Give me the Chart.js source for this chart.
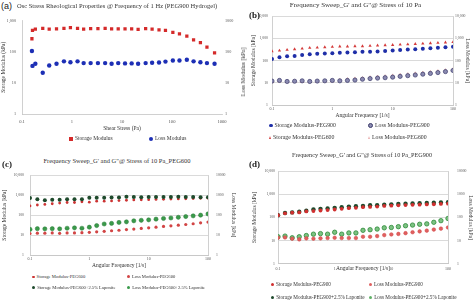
<!DOCTYPE html>
<html>
<head>
<meta charset="utf-8">
<script src="https://cdn.jsdelivr.net/npm/chart.js@4.4.1/dist/chart.umd.min.js"></script>
<style>
  html, body { margin: 0; padding: 0; background: #fff; }
  body { width: 474px; height: 303px; position: relative; overflow: hidden; font-family: "Liberation Serif", "Times New Roman", serif; color: #333; }
  canvas { position: absolute; }
  .txt { position: absolute; white-space: nowrap; line-height: 1; }
  .vt { position: absolute; white-space: nowrap; line-height: 1; transform: translate(-50%, -50%) rotate(-90deg); }
  .lg { position: absolute; white-space: nowrap; line-height: 1; display: flex; align-items: center; }
  .mk { display: inline-block; margin-right: 2px; }
</style>
</head>
<body>
<canvas id="chartA" width="237" height="124" style="left:0;top:12px"></canvas>
<canvas id="chartB" width="237" height="112" style="left:237px;top:10px"></canvas>
<canvas id="chartC" width="237" height="106" style="left:0;top:165px"></canvas>
<canvas id="chartD" width="237" height="115" style="left:237px;top:160px"></canvas>

<!-- titles -->
<div class="txt" style="left:1px;top:1px;font:9px 'Liberation Sans',sans-serif;color:#222">(a)</div>
<div class="txt" style="left:17px;top:2.5px;font-size:6.5px">Osc Stress Rheological Properties @ Frequency of 1 Hz (PEG900 Hydrogel)</div>
<div class="txt" style="left:237px;width:237px;text-align:center;top:1.5px;font-size:7px">Frequency Sweep_G' and G"@ Stress of 10 Pa</div>
<div class="txt" style="left:249px;top:11px;font-size:9px;font-weight:bold;color:#222">(b)</div>
<div class="txt" style="left:0;width:234px;text-align:center;top:157.5px;font-size:6.5px">Frequency Sweep_G' and G"@ Stress of 10 Pa_PEG600</div>
<div class="txt" style="left:2px;top:160px;font-size:9px;font-weight:bold;color:#222">(c)</div>
<div class="txt" style="left:237px;width:250px;text-align:center;top:151.8px;font-size:6.2px">Frequency Sweep_G' and G"@ Stress of 10 Pa_PEG900</div>
<div class="txt" style="left:249px;top:160px;font-size:9px;font-weight:bold;color:#222">(d)</div>
<div class="vt" style="left:243px;top:72px;font-size:6px">Loss Modulus [kPa]</div>

<!-- legends -->
<div class="lg" style="left:69px;top:136px;font-size:5.5px"><span class="mk" style="width:4px;height:4px;background:#d42a2a"></span>Storage Modulus</div>
<div class="lg" style="left:149px;top:136px;font-size:5.5px"><span class="mk" style="width:4px;height:4px;border-radius:50%;background:#1d2fb5"></span>Loss Modulus</div>

<div class="lg" style="left:269px;top:122.5px;font-size:5.8px"><span class="mk" style="width:3.5px;height:3.5px;border-radius:50%;background:#1f2fa8"></span>Storage Modulus-PEG900</div>
<div class="lg" style="left:368px;top:122.5px;font-size:5.8px"><span class="mk" style="width:3px;height:3px;border-radius:50%;background:#8a8ab0;border:0.6px solid #3a3a6a"></span>Loss Modulus-PEG900</div>
<div class="lg" style="left:269px;top:134.5px;font-size:5.8px"><span class="mk" style="width:0;height:0;border-left:1.8px solid transparent;border-right:1.8px solid transparent;border-bottom:3.2px solid #d43a3a"></span>Storage Modulus-PEG600</div>
<div class="lg" style="left:368px;top:134.5px;font-size:5.8px"><span class="mk" style="width:0;height:0;border-left:1.8px solid transparent;border-right:1.8px solid transparent;border-bottom:3.2px solid #e9b0b0"></span>Loss Modulus-PEG600</div>

<div class="lg" style="left:32px;top:274.5px;font-size:4.6px"><span class="mk" style="width:2.6px;height:2.6px;border-radius:50%;background:#cc3333"></span>Storage Modulus-PEG600</div>
<div class="lg" style="left:127px;top:274.5px;font-size:4.6px"><span class="mk" style="width:3px;height:3px;border-radius:50%;background:#d24545"></span>Loss Modulus-PEG600</div>
<div class="lg" style="left:32px;top:285.5px;font-size:4.6px"><span class="mk" style="width:3.2px;height:3.2px;border-radius:50%;background:#1e4a2c"></span>Storage Modulus-PEG600+2.5% Laponite</div>
<div class="lg" style="left:127px;top:285.5px;font-size:4.6px"><span class="mk" style="width:3.2px;height:3.2px;border-radius:50%;background:#3a9a4a"></span>Loss Modulus-PEG600+2.5% Laponite</div>

<div class="lg" style="left:271px;top:282px;font-size:5.2px"><span class="mk" style="width:3px;height:3px;border-radius:50%;background:#d03030"></span>Storage Modulus-PEG900</div>
<div class="lg" style="left:369px;top:282px;font-size:5.2px"><span class="mk" style="width:3px;height:3px;border-radius:50%;background:#e06060"></span>Loss Modulus-PEG900</div>
<div class="lg" style="left:271px;top:294.5px;font-size:5.2px"><span class="mk" style="width:3.2px;height:3.2px;border-radius:50%;background:#1e4a2c"></span>Storage Modulus-PEG900+2.5% Laponite</div>
<div class="lg" style="left:369px;top:294.5px;font-size:5.2px"><span class="mk" style="width:3.2px;height:3.2px;border-radius:50%;background:#5fb066"></span>Loss Modulus-PEG900+2.5% Laponite</div>

<script>
const SERIF = "'Liberation Serif', 'Times New Roman', serif";

// (a) stress sweep
const stressA = [0.158, 0.162, 0.185, 0.26, 0.35, 0.49, 0.69, 0.93, 1.29, 1.71, 2.36, 3.3, 4.6, 6.2, 8.4, 11.5, 15.6, 21, 29.7, 40, 55, 74, 104, 141, 198, 270, 370, 500, 710];
const storageA = [260, 480, 530, 560, 530, 540, 560, 590, 560, 530, 550, 550, 560, 540, 540, 540, 540, 520, 550, 530, 500, 480, 415, 375, 315, 240, 194, 140, 91];
const lossA = [105, 35, 41, 21, 36, 41, 49, 46, 49, 43, 43, 43, 43, 41, 43, 42, 42, 41, 43, 44, 45, 48, 52, 52, 55, 49, 46, 43, 41];

// (b)(c)(d) angular frequency [1/s]
const freqs = [0.1, 0.133, 0.178, 0.237, 0.316, 0.422, 0.562, 0.75, 1, 1.33, 1.78, 2.37, 3.16, 4.22, 5.62, 7.5, 10, 13.3, 17.8, 23.7, 31.6, 42.2, 56.2, 75, 100];

const storageB900 = [119, 141, 157, 163, 181, 193, 202, 208, 215, 224, 231, 238, 249, 249, 256, 270, 285, 300, 315, 330, 345, 360, 380, 400, 420];
const storageB600 = [265, 285, 306, 326, 351, 378, 390, 404, 420, 433, 433, 447, 447, 466, 481, 495, 510, 525, 545, 565, 585, 610, 635, 660, 680];
const lossB900 = [12, 12.8, 11.5, 11.8, 12.3, 11.5, 12, 12.3, 12.8, 12.3, 12.8, 13.3, 14.5, 15.5, 16.3, 17, 18, 19.5, 21, 22.5, 24.5, 26.5, 29, 32, 36];
const lossB600 = [11.2, 12, 11.2, 11.5, 11.5, 11.2, 11.5, 12, 12, 13, 14, 15, 15.8, 17, 18.2, 19, 20.5, 22, 23.5, 25.5, 27.5, 29.5, 32, 35.5, 39];

const storageC600 = [289, 323, 345, 373, 402, 430, 430, 464, 449, 501, 501, 518, 536, 559, 578, 590, 600, 615, 625, 640, 650, 665, 680, 695, 710];
const lossC600 = [12, 12.4, 12.4, 12.8, 12.2, 12.8, 12.8, 13.2, 13.8, 14.5, 15.5, 16.5, 17.5, 18.8, 20, 21.5, 23, 25, 27, 29, 31.5, 34, 37, 41, 45];
const storageC600Lap = [720, 624, 559, 597, 597, 624, 624, 624, 744, 744, 744, 777, 777, 830, 803, 800, 810, 810, 820, 820, 830, 820, 810, 800, 790];
const lossC600Lap = [19.3, 21, 20.5, 21, 20.5, 22, 23, 22, 24.8, 30, 36, 38.5, 43, 46, 52, 55, 58, 63, 68, 72, 78, 85, 92, 100, 115];

const storageD900 = [125, 151, 161, 166, 183, 190, 201, 209, 222, 237, 253, 261, 279, 287, 296, 316, 325, 335, 345, 352, 360, 368, 375, 385, 395];
const lossD900 = [13.3, 13.7, 12.1, 11.3, 12.5, 12.1, 12.5, 12.9, 13.3, 12.9, 12.9, 12.9, 14.7, 14.7, 15.7, 17.3, 18.5, 19.5, 21, 23, 25, 27, 30, 33, 37];
const storageD900Lap = [125, 157, 166, 178, 196, 222, 237, 244, 261, 279, 296, 307, 316, 338, 338, 358, 370, 385, 395, 405, 415, 425, 440, 450, 460];
const lossD900Lap = [14.7, 15.7, 13.3, 14.7, 16.6, 19.0, 20.1, 19.0, 23.0, 19.0, 21.5, 21.5, 27.9, 29.6, 31.6, 35.8, 37, 40, 44, 47, 51, 53, 62, 73, 91];

// tick values / labels
const xTicksA = [0.1, 1, 10, 100, 1000];
const xLabelsA = ['0.1', '1', '10', '100', '1000'];
const yTicksA = [1, 10, 100, 1000];
const yLabelsA = ['1', '10', '100', '1,000'];
const yLabelsA2 = ['1', '10', '100', '1000'];
const xTicksF = [0.1, 1, 10, 100];
const xLabelsF = ['0.1', '1', '10', '100'];
const yTicksF = [1, 10, 100, 1000, 10000];
const yLabelsF = ['1', '10', '100', '1,000', '10,000'];
const yLabelsF2 = ['1', '10', '100', '1000', '10000'];

function pts(xs, ys) {
  return ys.map((y, i) => ({ x: xs[i], y: y }));
}

function logAxis(o) {
  return {
    type: 'logarithmic',
    position: o.position,
    min: o.min,
    max: o.max,
    afterBuildTicks: s => { s.ticks = o.ticks.map(v => ({ value: v })); },
    afterFit: s => { if (s.isHorizontal()) s.height = o.size; else s.width = o.size; },
    ticks: {
      autoSkip: false, maxRotation: 0, padding: o.pad, color: '#555',
      font: { family: SERIF, size: o.font },
      callback: (v, i) => o.labels[i]
    },
    grid: { display: !!o.grid, drawTicks: false, color: '#d0d0d0', lineWidth: 0.8 },
    border: { display: o.border !== false, color: '#c4c4c4', width: 0.8 },
    title: o.title
      ? { display: true, text: o.title, color: '#333', font: { family: SERIF, size: o.tsize || 5.5 }, padding: { top: o.tpad, bottom: o.tpad } }
      : { display: false }
  };
}

function ds(label, xs, ys, axis, style) {
  return Object.assign({
    label: label,
    data: pts(xs, ys),
    yAxisID: axis,
    borderWidth: 0,
    pointHoverRadius: 0
  }, style);
}

function panel(id, padTop, sets, x, y, y2) {
  return new Chart(document.getElementById(id), {
    type: 'scatter',
    data: { datasets: sets },
    options: {
      responsive: false,
      animation: false,
      layout: { padding: { top: padTop, left: 0, right: 0, bottom: 0 } },
      plugins: { legend: { display: false }, tooltip: { enabled: false } },
      scales: { x: x, y: y, y2: y2 }
    }
  });
}

// (a)
panel('chartA', 8, [
  ds('Storage Modulus', stressA, storageA, 'y', { pointStyle: 'rect', pointRadius: 2.3, backgroundColor: '#d42a2a', borderColor: '#d42a2a' }),
  ds('Loss Modulus', stressA, lossA, 'y2', { pointStyle: 'circle', pointRadius: 2.2, backgroundColor: '#1d2fb5', borderColor: '#1d2fb5' })
],
  logAxis({ position: 'bottom', min: 0.1, max: 1000, ticks: xTicksA, labels: xLabelsA, size: 22, pad: 5, font: 4.6, title: 'Shear Stress (Pa)', tpad: 4.4 }),
  logAxis({ position: 'left', min: 1, max: 1000, ticks: yTicksA, labels: yLabelsA, size: 22, pad: 6, font: 4.2, title: 'Storage Modulus (kPa)', tpad: 0 }),
  logAxis({ position: 'right', min: 1, max: 1000, ticks: yTicksA, labels: yLabelsA2, size: 15, pad: 3, font: 4.2, border: false })
);

// (b)
panel('chartB', 6, [
  ds('Loss Modulus-PEG900', freqs, lossB900, 'y2', { pointStyle: 'circle', pointRadius: 2.1, backgroundColor: '#8a8ab0', borderColor: '#3a3a6a', borderWidth: 0.7 }),
  ds('Loss Modulus-PEG600', freqs, lossB600, 'y2', { pointStyle: 'triangle', pointRadius: 2, backgroundColor: '#efbcbc', borderColor: '#c98a8a', borderWidth: 0.5 }),
  ds('Storage Modulus-PEG900', freqs, storageB900, 'y', { pointStyle: 'circle', pointRadius: 2, backgroundColor: '#1f2fa8', borderColor: '#1f2fa8' }),
  ds('Storage Modulus-PEG600', freqs, storageB600, 'y', { pointStyle: 'triangle', pointRadius: 1.9, backgroundColor: '#d43a3a', borderColor: '#d43a3a' })
],
  logAxis({ position: 'bottom', min: 0.1, max: 100, ticks: xTicksF, labels: xLabelsF, size: 17, pad: 2, font: 4, title: 'Angular Frequency [1/s]', tpad: 2.7 }),
  logAxis({ position: 'left', min: 1, max: 10000, ticks: yTicksF, labels: yLabelsF, size: 35, pad: 4, font: 3.8, grid: true, title: 'Storage Modulus [kPa]', tpad: 13.7 }),
  logAxis({ position: 'right', min: 1, max: 10000, ticks: yTicksF, labels: yLabelsF, size: 21, pad: 2, font: 3.8, title: 'Loss Modulus [kPa]', tpad: 3.7 })
);

// (c)
panel('chartC', 6, [
  ds('Storage Modulus-PEG600+2.5% Laponite', freqs, storageC600Lap, 'y', { pointStyle: 'circle', pointRadius: 2, backgroundColor: '#1e4a2c', borderColor: '#1e4a2c' }),
  ds('Storage Modulus-PEG600', freqs, storageC600, 'y', { pointStyle: 'circle', pointRadius: 1.4, backgroundColor: '#cc3333', borderColor: '#cc3333' }),
  ds('Loss Modulus-PEG600+2.5% Laponite', freqs, lossC600Lap, 'y2', { pointStyle: 'circle', pointRadius: 2.1, backgroundColor: '#3a9a4a', borderColor: '#2a7a38', borderWidth: 0.5 }),
  ds('Loss Modulus-PEG600', freqs, lossC600, 'y2', { pointStyle: 'circle', pointRadius: 1.6, backgroundColor: '#d24545', borderColor: '#d24545' })
],
  logAxis({ position: 'bottom', min: 0.1, max: 100, ticks: xTicksF, labels: xLabelsF, size: 16, pad: 1.5, font: 4, title: 'Angular Frequency [1/s]', tpad: 1.7 }),
  logAxis({ position: 'left', min: 1, max: 10000, ticks: yTicksF, labels: yLabelsF, size: 30, pad: 6, font: 3.8, grid: true, title: 'Storage Modulus [kPa]', tpad: 1.7 }),
  logAxis({ position: 'right', min: 1, max: 10000, ticks: yTicksF, labels: yLabelsF2, size: 29, pad: 8, font: 3.8, title: 'Loss Modulus [kPa]', tpad: 0.7 })
);

// (d)
panel('chartD', 6, [
  ds('Storage Modulus-PEG900', freqs, storageD900, 'y', { pointStyle: 'circle', pointRadius: 1.9, backgroundColor: '#d03030', borderColor: '#d03030' }),
  ds('Storage Modulus-PEG900+2.5% Laponite', freqs, storageD900Lap, 'y', { pointStyle: 'circle', pointRadius: 2.2, backgroundColor: '#1e4a2c', borderColor: '#1e4a2c' }),
  ds('Loss Modulus-PEG900', freqs, lossD900, 'y2', { pointStyle: 'circle', pointRadius: 1.8, backgroundColor: '#e06060', borderColor: '#d04040', borderWidth: 0.5 }),
  ds('Loss Modulus-PEG900+2.5% Laponite', freqs, lossD900Lap, 'y2', { pointStyle: 'circle', pointRadius: 2.2, backgroundColor: '#7cc282', borderColor: '#2e8a3a', borderWidth: 0.8 })
],
  logAxis({ position: 'bottom', min: 0.1, max: 100, ticks: xTicksF, labels: xLabelsF, size: 11, pad: 2.5, font: 4, title: 'Angular Frequency [1/s]', tpad: 2.7 }),
  logAxis({ position: 'left', min: 1, max: 10000, ticks: yTicksF, labels: yLabelsF, size: 41, pad: 3, font: 3.8, grid: true, title: 'Storage Modulus [kPa]', tpad: 14.7 }),
  logAxis({ position: 'right', min: 1, max: 10000, ticks: yTicksF, labels: yLabelsF2, size: 26, pad: 9, font: 3.8, title: 'Loss Modulus [kPa]', tpad: 0 })
);
</script>
</body>
</html>
